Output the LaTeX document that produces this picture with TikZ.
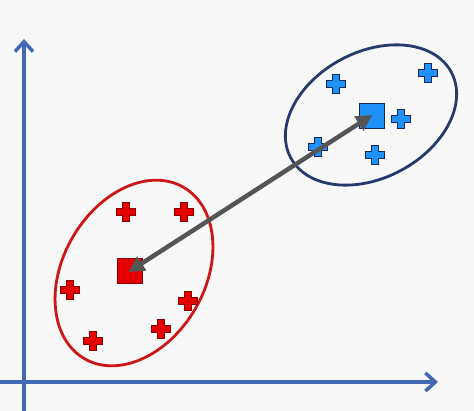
\documentclass[tikz,border=0pt]{standalone}
\usetikzlibrary{arrows.meta}
\definecolor{bgc}{RGB}{248,248,248}
\definecolor{axisblue}{RGB}{66,104,180}
\definecolor{redfill}{RGB}{228,0,0}
\definecolor{reddraw}{RGB}{140,0,0}
\definecolor{redell}{RGB}{205,22,22}
\definecolor{bluefill}{RGB}{30,146,250}
\definecolor{bluedraw}{RGB}{22,40,85}
\definecolor{blueell}{RGB}{38,58,108}
\definecolor{arrgray}{RGB}{85,85,85}
\tikzset{
  axisline/.style={draw=axisblue,line width=3.5pt,-{Straight Barb[length=10pt,width=18pt]}},
  ellred/.style={draw=redell,line width=2.8pt},
  ellblue/.style={draw=blueell,line width=2.8pt},
  sqred/.style={draw=reddraw,fill=redfill,line width=0.7pt,minimum size=25pt,inner sep=0pt,outer sep=0pt},
  sqblue/.style={draw=bluedraw,fill=bluefill,line width=0.7pt,minimum size=25pt,inner sep=0pt,outer sep=0pt},
  distarrow/.style={draw=arrgray,line width=4.5pt,{Triangle[length=16pt,width=16pt]}-{Triangle[length=16pt,width=16pt]},shorten <=-2pt,shorten >=-1pt},
  pics/plus/.style n args={2}{code={
    \draw[fill=#1,draw=#2,line width=0.7pt]
      (-3.5,-9.5) -- (3.5,-9.5) -- (3.5,-3.5) -- (9.5,-3.5) -- (9.5,3.5) -- (3.5,3.5)
      -- (3.5,9.5) -- (-3.5,9.5) -- (-3.5,3.5) -- (-9.5,3.5) -- (-9.5,-3.5) -- (-3.5,-3.5) -- cycle;
  }},
}
\begin{document}
\begin{tikzpicture}[x=1pt,y=-1pt]
  \fill[bgc] (0,0) rectangle (474,411);
  \useasboundingbox (0,0) rectangle (474,411);
  % axes
  \coordinate (ybot) at (24,411);
  \coordinate (ytop) at (24,39);
  \coordinate (xleft) at (0,382);
  \coordinate (xright) at (438,382);
  \draw[axisline] (ybot) -- (ytop);
  \draw[axisline] (xleft) -- (xright);
  % clusters
  \draw[ellred,rotate around={60:(134,273)}] (134,273) ellipse [x radius=99pt, y radius=71pt];
  \draw[ellblue,rotate around={28:(371,115)}] (371,115) ellipse [x radius=91pt, y radius=63pt];
  % red points
  \pic at (126,212) {plus={redfill}{reddraw}};
  \pic at (184,212) {plus={redfill}{reddraw}};
  \pic at (70,290) {plus={redfill}{reddraw}};
  \pic at (188,301) {plus={redfill}{reddraw}};
  \pic at (161,329) {plus={redfill}{reddraw}};
  \pic at (93,341) {plus={redfill}{reddraw}};
  % blue points
  \pic at (336,84) {plus={bluefill}{bluedraw}};
  \pic at (428,73) {plus={bluefill}{bluedraw}};
  \pic at (401,119) {plus={bluefill}{bluedraw}};
  \pic at (318,147) {plus={bluefill}{bluedraw}};
  \pic at (375,155) {plus={bluefill}{bluedraw}};
  % centroids
  \node[sqred] (cred) at (130,271) {};
  \node[sqblue] (cblue) at (371.5,115.5) {};
  \draw[distarrow] (cred.center) -- (cblue.center);
\end{tikzpicture}
\end{document}
